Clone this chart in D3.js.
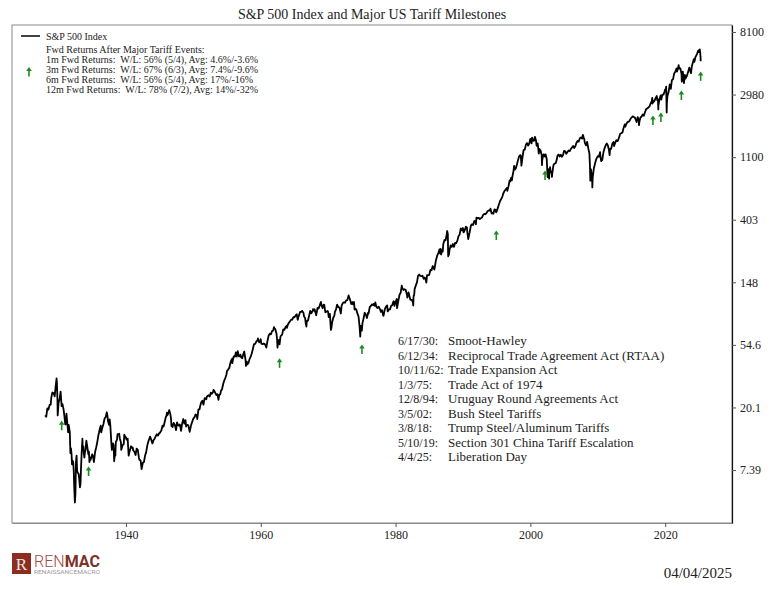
<!DOCTYPE html>
<html>
<head>
<meta charset="utf-8">
<script src="https://cdn.jsdelivr.net/npm/d3@7"></script>
<style>
body { margin: 0; background: #fff; }
text { font-family: "Liberation Serif", serif; fill: #222; }
</style>
</head>
<body>
<script>
// S&P 500 level, [decimal year, close] (log scale)
const spx = [
  [1928.00,17.7],[1928.17,17.3],[1928.33,19.8],[1928.50,19.4],[1928.67,20.9],[1928.83,21.0],[1928.92,23.5],[1928.99,24.35],
  [1929.08,25.5],[1929.25,25.3],[1929.42,24.0],[1929.58,28.5],[1929.70,31.9],[1929.75,30.0],[1929.83,22.9],[1929.87,17.7],[1929.99,21.45],
  [1930.17,23.3],[1930.30,25.9],[1930.45,20.5],[1930.50,20.5],[1930.58,21.2],[1930.75,19.4],[1930.92,16.5],[1930.99,15.3],
  [1931.08,15.4],[1931.17,18.2],[1931.33,15.0],[1931.42,13.5],[1931.50,15.2],[1931.67,13.5],[1931.75,9.7],[1931.83,10.5],[1931.92,9.6],[1931.99,8.1],
  [1932.08,8.6],[1932.17,8.4],[1932.25,7.3],[1932.33,5.5],[1932.42,4.4],[1932.50,5.0],[1932.58,8.4],[1932.67,9.3],[1932.75,7.3],[1932.83,7.1],[1932.99,6.9],
  [1933.08,6.3],[1933.17,5.6],[1933.25,5.9],[1933.33,7.6],[1933.42,9.6],[1933.54,12.2],[1933.58,10.4],[1933.67,10.8],[1933.75,9.6],[1933.83,9.0],[1933.92,9.9],[1933.99,10.1],
  [1934.08,11.3],[1934.12,11.8],[1934.25,10.8],[1934.42,9.5],[1934.50,9.9],[1934.58,8.4],[1934.67,9.0],[1934.75,8.7],[1934.92,9.3],[1934.99,9.5],
  [1935.08,9.3],[1935.25,8.4],[1935.42,9.9],[1935.58,10.6],[1935.75,11.6],[1935.92,13.0],[1935.99,13.4],
  [1936.08,14.0],[1936.25,15.0],[1936.33,13.5],[1936.50,14.6],[1936.67,15.5],[1936.83,16.9],[1936.99,17.2],
  [1937.15,18.6],[1937.25,17.6],[1937.33,16.2],[1937.50,15.2],[1937.58,16.6],[1937.67,15.3],[1937.75,13.2],[1937.83,11.4],[1937.90,10.2],[1937.99,10.5],
  [1938.08,11.3],[1938.17,11.0],[1938.25,8.5],[1938.33,9.4],[1938.42,9.3],[1938.50,11.6],[1938.67,12.0],[1938.75,13.1],[1938.83,13.1],[1938.99,13.2],
  [1939.08,12.3],[1939.25,11.5],[1939.30,10.2],[1939.50,11.0],[1939.67,11.2],[1939.75,13.0],[1939.92,12.4],[1939.99,12.5],
  [1940.08,12.0],[1940.25,12.2],[1940.40,9.3],[1940.50,9.8],[1940.58,10.1],[1940.75,10.8],[1940.92,10.5],[1940.99,10.6],
  [1941.08,10.1],[1941.25,9.9],[1941.42,9.4],[1941.58,10.4],[1941.75,10.2],[1941.92,9.0],[1941.99,8.7],
  [1942.17,8.6],[1942.32,7.5],[1942.50,8.3],[1942.67,8.4],[1942.83,9.3],[1942.99,9.8],
  [1943.17,11.0],[1943.33,11.7],[1943.50,12.3],[1943.58,12.6],[1943.75,12.0],[1943.92,11.3],[1943.99,11.5],
  [1944.08,11.9],[1944.25,12.2],[1944.42,12.7],[1944.58,13.1],[1944.75,12.8],[1944.92,13.3],[1944.99,13.3],
  [1945.08,13.5],[1945.25,13.9],[1945.42,15.0],[1945.58,14.8],[1945.75,16.0],[1945.92,17.3],[1945.99,17.4],
  [1946.08,18.5],[1946.17,17.8],[1946.33,18.7],[1946.42,19.25],[1946.58,18.0],[1946.67,17.0],[1946.75,14.9],[1946.92,14.7],[1946.99,15.3],
  [1947.08,15.7],[1947.25,15.2],[1947.42,14.0],[1947.58,15.8],[1947.75,15.1],[1947.92,15.0],[1947.99,15.3],
  [1948.08,14.7],[1948.17,13.8],[1948.33,15.5],[1948.50,16.7],[1948.67,15.5],[1948.83,16.4],[1948.92,14.8],[1948.99,15.2],
  [1949.08,15.2],[1949.25,15.1],[1949.45,13.6],[1949.67,15.2],[1949.83,16.0],[1949.99,16.8],
  [1950.17,17.2],[1950.33,18.0],[1950.50,17.7],[1950.58,16.7],[1950.75,19.5],[1950.92,19.5],[1950.99,20.4],
  [1951.17,21.8],[1951.33,22.4],[1951.50,21.0],[1951.67,23.3],[1951.75,23.3],[1951.92,22.9],[1951.99,23.8],
  [1952.08,24.1],[1952.25,24.4],[1952.42,23.9],[1952.58,25.4],[1952.75,25.0],[1952.92,25.7],[1952.99,26.6],
  [1953.08,26.4],[1953.25,25.3],[1953.42,24.5],[1953.58,24.8],[1953.72,22.7],[1953.83,24.5],[1953.99,24.8],
  [1954.08,26.1],[1954.25,26.9],[1954.42,29.2],[1954.58,30.9],[1954.75,32.3],[1954.92,34.2],[1954.99,36.0],
  [1955.17,36.8],[1955.33,37.9],[1955.50,41.0],[1955.67,43.2],[1955.75,43.7],[1955.78,40.8],[1955.83,42.3],[1955.99,45.5],
  [1956.17,45.3],[1956.30,48.4],[1956.42,45.2],[1956.58,49.4],[1956.75,45.4],[1956.92,45.6],[1956.99,46.7],
  [1957.08,44.7],[1957.25,44.1],[1957.42,47.4],[1957.55,49.1],[1957.75,42.4],[1957.80,39.0],[1957.92,41.7],[1957.99,40.0],
  [1958.17,40.8],[1958.33,43.4],[1958.50,45.2],[1958.67,47.8],[1958.83,51.3],[1958.99,55.2],
  [1959.17,55.4],[1959.33,57.6],[1959.50,58.5],[1959.58,60.5],[1959.75,56.9],[1959.92,57.9],[1959.99,59.9],
  [1960.08,55.6],[1960.25,55.3],[1960.42,55.8],[1960.58,55.5],[1960.75,53.5],[1960.82,52.3],[1960.99,58.1],
  [1961.17,63.4],[1961.33,65.3],[1961.50,64.6],[1961.67,68.1],[1961.83,68.6],[1961.96,72.6],[1961.99,71.6],
  [1962.17,69.9],[1962.33,65.2],[1962.42,59.6],[1962.48,52.3],[1962.58,58.2],[1962.67,59.1],[1962.75,56.3],[1962.79,55.0],[1962.92,62.3],[1962.99,63.1],
  [1963.17,64.3],[1963.33,70.0],[1963.50,69.4],[1963.67,72.5],[1963.83,74.0],[1963.89,71.6],[1963.99,75.0],
  [1964.17,77.8],[1964.33,79.5],[1964.50,81.7],[1964.67,81.8],[1964.83,85.0],[1964.99,84.75],
  [1965.17,87.4],[1965.33,89.1],[1965.48,81.6],[1965.58,85.3],[1965.83,92.4],[1965.99,92.4],
  [1966.12,94.0],[1966.33,91.1],[1966.42,86.1],[1966.58,83.6],[1966.67,77.1],[1966.77,73.2],[1966.83,80.2],[1966.99,80.3],
  [1967.17,86.8],[1967.33,94.0],[1967.50,90.6],[1967.67,93.6],[1967.75,96.7],[1967.92,94.0],[1967.99,96.5],
  [1968.17,89.4],[1968.22,87.7],[1968.42,98.7],[1968.58,97.7],[1968.75,102.7],[1968.92,108.4],[1968.99,103.9],
  [1969.17,98.1],[1969.33,103.7],[1969.42,103.5],[1969.58,91.8],[1969.75,93.1],[1969.92,93.8],[1969.99,92.1],
  [1970.08,85.0],[1970.25,89.6],[1970.40,69.3],[1970.50,72.7],[1970.58,78.0],[1970.75,84.2],[1970.92,87.2],[1970.99,92.2],
  [1971.17,96.8],[1971.33,104.0],[1971.50,99.7],[1971.67,99.0],[1971.88,90.2],[1971.99,102.1],
  [1972.17,106.6],[1972.33,107.7],[1972.50,107.1],[1972.67,111.1],[1972.83,111.6],[1972.99,118.05],
  [1973.03,120.2],[1973.25,112.4],[1973.42,104.9],[1973.58,108.2],[1973.67,104.3],[1973.83,108.3],[1973.92,95.96],[1973.99,97.6],
  [1974.17,96.2],[1974.33,90.3],[1974.50,86.0],[1974.58,79.3],[1974.67,72.2],[1974.76,62.3],[1974.83,73.9],[1974.92,69.97],[1974.99,68.6],
  [1975.08,77.0],[1975.25,83.4],[1975.42,91.2],[1975.58,88.75],[1975.75,83.9],[1975.92,91.2],[1975.99,90.2],
  [1976.17,100.0],[1976.33,101.6],[1976.50,104.3],[1976.67,102.9],[1976.75,105.2],[1976.92,102.1],[1976.99,107.5],
  [1977.17,99.8],[1977.33,98.4],[1977.50,100.5],[1977.67,96.8],[1977.83,92.3],[1977.92,94.8],[1977.99,95.1],
  [1978.17,87.0],[1978.21,86.9],[1978.42,97.2],[1978.58,100.7],[1978.75,102.5],[1978.83,93.2],[1978.92,94.7],[1978.99,96.1],
  [1979.17,96.3],[1979.33,101.8],[1979.50,102.9],[1979.67,109.3],[1979.75,109.3],[1979.83,101.8],[1979.99,107.9],
  [1980.17,113.7],[1980.22,98.2],[1980.42,111.2],[1980.58,121.7],[1980.75,125.5],[1980.92,140.5],[1980.99,135.8],
  [1981.17,131.3],[1981.33,132.8],[1981.50,131.2],[1981.67,122.8],[1981.75,116.2],[1981.92,126.35],[1981.99,122.6],
  [1982.17,113.1],[1982.25,112.0],[1982.42,111.9],[1982.58,107.1],[1982.62,102.4],[1982.67,119.5],[1982.75,120.4],[1982.83,133.7],[1982.99,140.6],
  [1983.17,148.1],[1983.33,164.4],[1983.50,168.1],[1983.67,164.4],[1983.83,163.6],[1983.99,164.9],
  [1984.17,157.1],[1984.33,160.05],[1984.50,153.2],[1984.56,147.8],[1984.67,166.7],[1984.83,166.1],[1984.99,167.2],
  [1985.17,181.2],[1985.33,179.8],[1985.50,191.9],[1985.67,188.6],[1985.75,182.1],[1985.92,202.2],[1985.99,211.3],
  [1986.17,226.9],[1986.33,235.5],[1986.50,250.8],[1986.58,236.1],[1986.67,252.9],[1986.75,231.3],[1986.92,249.2],[1986.99,242.2],
  [1987.08,274.1],[1987.25,291.7],[1987.42,290.1],[1987.58,318.7],[1987.65,336.8],[1987.75,321.8],[1987.80,224.8],[1987.83,251.8],[1987.92,230.3],[1987.99,247.1],
  [1988.17,267.8],[1988.33,261.3],[1988.50,273.5],[1988.67,261.5],[1988.83,279.0],[1988.99,277.7],
  [1989.17,288.9],[1989.33,309.6],[1989.50,318.0],[1989.67,351.5],[1989.83,340.4],[1989.99,353.4],
  [1990.08,329.1],[1990.25,339.9],[1990.42,361.2],[1990.58,356.2],[1990.67,322.6],[1990.78,295.5],[1990.83,304.0],[1990.99,330.2],
  [1991.17,367.1],[1991.33,375.3],[1991.50,371.2],[1991.67,395.4],[1991.83,392.5],[1991.92,375.2],[1991.99,417.1],
  [1992.17,412.7],[1992.33,415.0],[1992.50,408.1],[1992.67,414.0],[1992.83,418.7],[1992.99,435.7],
  [1993.17,443.4],[1993.33,440.2],[1993.50,450.5],[1993.67,463.6],[1993.83,467.8],[1993.99,466.5],
  [1994.08,481.6],[1994.25,445.8],[1994.33,450.9],[1994.50,444.3],[1994.67,475.5],[1994.83,472.4],[1994.92,453.7],[1994.99,459.3],
  [1995.17,487.4],[1995.33,514.7],[1995.50,544.8],[1995.67,561.9],[1995.83,581.5],[1995.99,615.9],
  [1996.17,640.4],[1996.33,654.2],[1996.50,670.6],[1996.58,640.0],[1996.75,687.3],[1996.92,757.0],[1996.99,740.7],
  [1997.17,790.8],[1997.25,757.1],[1997.33,801.3],[1997.50,885.1],[1997.58,954.3],[1997.67,899.5],[1997.83,914.6],[1997.99,970.4],
  [1998.17,1049.3],[1998.33,1111.8],[1998.50,1133.8],[1998.58,1120.7],[1998.67,957.3],[1998.83,1098.7],[1998.99,1229.2],
  [1999.17,1238.3],[1999.33,1335.2],[1999.50,1372.7],[1999.67,1320.4],[1999.83,1362.9],[1999.99,1469.3],
  [2000.17,1366.4],[2000.25,1498.6],[2000.42,1420.6],[2000.58,1430.8],[2000.67,1517.7],[2000.83,1429.4],[2000.92,1315.2],[2000.99,1320.3],
  [2001.08,1366.0],[2001.25,1160.3],[2001.33,1249.5],[2001.50,1224.4],[2001.67,1133.6],[2001.72,965.8],[2001.75,1040.9],[2001.92,1139.5],[2001.99,1148.1],
  [2002.17,1106.7],[2002.25,1147.4],[2002.42,1067.1],[2002.55,797.7],[2002.58,911.6],[2002.75,815.3],[2002.78,776.8],[2002.83,885.8],[2002.92,936.3],[2002.99,879.8],
  [2003.17,841.2],[2003.20,800.7],[2003.25,848.2],[2003.42,963.6],[2003.58,990.3],[2003.75,996.0],[2003.92,1058.2],[2003.99,1111.9],
  [2004.17,1144.9],[2004.33,1107.3],[2004.50,1140.8],[2004.67,1104.2],[2004.83,1130.2],[2004.99,1211.9],
  [2005.17,1203.6],[2005.33,1156.9],[2005.50,1191.3],[2005.67,1220.3],[2005.83,1207.0],[2005.99,1248.3],
  [2006.17,1280.7],[2006.33,1310.6],[2006.50,1270.2],[2006.67,1303.8],[2006.83,1377.9],[2006.99,1418.3],
  [2007.17,1406.8],[2007.33,1482.4],[2007.50,1503.4],[2007.67,1474.0],[2007.78,1565.2],[2007.83,1549.4],[2007.92,1481.1],[2007.99,1468.4],
  [2008.08,1378.6],[2008.25,1322.7],[2008.42,1400.4],[2008.58,1267.4],[2008.75,1166.4],[2008.83,968.75],[2008.89,752.4],[2008.92,896.2],[2008.99,903.3],
  [2009.08,825.9],[2009.17,735.1],[2009.19,676.5],[2009.25,797.9],[2009.42,919.1],[2009.58,987.5],[2009.75,1057.1],[2009.92,1095.6],[2009.99,1115.1],
  [2010.17,1104.5],[2010.33,1186.7],[2010.42,1089.4],[2010.50,1030.7],[2010.67,1049.3],[2010.83,1183.3],[2010.99,1257.6],
  [2011.17,1327.2],[2011.33,1363.6],[2011.50,1320.6],[2011.67,1218.9],[2011.75,1131.4],[2011.83,1253.3],[2011.92,1247.0],[2011.99,1257.6],
  [2012.17,1365.7],[2012.33,1397.9],[2012.42,1310.3],[2012.58,1379.3],[2012.75,1440.7],[2012.92,1416.2],[2012.99,1426.2],
  [2013.17,1514.7],[2013.33,1597.6],[2013.50,1606.3],[2013.67,1633.0],[2013.83,1756.5],[2013.99,1848.4],
  [2014.08,1782.6],[2014.25,1872.3],[2014.42,1923.6],[2014.58,1930.7],[2014.75,1972.3],[2014.83,2018.1],[2014.99,2058.9],
  [2015.17,2104.5],[2015.33,2085.5],[2015.50,2063.1],[2015.67,1972.2],[2015.75,1920.0],[2015.92,2080.4],[2015.99,2043.9],
  [2016.08,1940.2],[2016.12,1829.1],[2016.17,1932.2],[2016.33,2065.3],[2016.50,2098.9],[2016.67,2171.0],[2016.83,2126.2],[2016.99,2238.8],
  [2017.17,2363.6],[2017.33,2384.2],[2017.50,2423.4],[2017.67,2471.7],[2017.83,2575.3],[2017.99,2673.6],
  [2018.08,2823.8],[2018.12,2581.0],[2018.17,2713.8],[2018.25,2640.9],[2018.42,2705.3],[2018.58,2816.3],[2018.75,2914.0],[2018.83,2711.7],[2018.92,2760.2],[2018.98,2351.1],[2018.99,2506.9],
  [2019.17,2784.5],[2019.33,2945.8],[2019.42,2752.1],[2019.58,2980.4],[2019.75,2976.7],[2019.92,3141.0],[2019.99,3230.8],
  [2020.08,3225.5],[2020.14,3386.2],[2020.17,2954.2],[2020.22,2237.4],[2020.25,2584.6],[2020.33,2912.4],[2020.50,3100.3],[2020.67,3500.3],[2020.83,3270.0],[2020.99,3756.1],
  [2021.17,3811.2],[2021.33,4181.2],[2021.50,4297.5],[2021.67,4522.7],[2021.75,4307.5],[2021.92,4567.0],[2021.99,4766.2],
  [2022.08,4515.6],[2022.25,4530.4],[2022.42,4132.2],[2022.46,3666.8],[2022.50,3785.4],[2022.62,4305.2],[2022.67,3955.0],[2022.78,3577.0],[2022.92,4080.1],[2022.99,3839.5],
  [2023.17,3970.2],[2023.33,4169.5],[2023.50,4450.4],[2023.58,4589.0],[2023.75,4288.1],[2023.83,4193.8],[2023.92,4567.8],[2023.99,4769.8],
  [2024.17,5096.3],[2024.25,5254.4],[2024.33,5035.7],[2024.50,5460.5],[2024.58,5522.3],[2024.67,5648.4],[2024.75,5762.5],[2024.92,6032.4],[2024.99,5881.6],
  [2025.08,6040.5],[2025.13,6144.2],[2025.17,5954.5],[2025.22,5611.9],[2025.25,5396.5],[2025.26,5074.1]
];

// tariff events: arrow dates and the index level where each arrow sits under
const eventDates = [1930.46, 1934.45, 1962.78, 1975.01, 1994.94, 2002.17, 2018.18, 2019.36, 2022.40, 2025.26];
const eventLevels = [21.0, 10.1, 56.9, 71.0, 439, 1147, 2761, 2897, 4110, 5580];

const milestoneDates = ["6/17/30:", "6/12/34:", "10/11/62:", "1/3/75:", "12/8/94:", "3/5/02:", "3/8/18:", "5/10/19:", "4/4/25:"];
const milestoneNames = ["Smoot-Hawley", "Reciprocal Trade Agreement Act (RTAA)", "Trade Expansion Act", "Trade Act of 1974",
  "Uruguay Round Agreements Act", "Bush Steel Tariffs", "Trump Steel/Aluminum Tariffs",
  "Section 301 China Tariff Escalation", "Liberation Day"];

const legendRows = [
  "Fwd Returns After Major Tariff Events:",
  "1m Fwd Returns:  W/L: 56% (5/4), Avg: 4.6%/-3.6%",
  "3m Fwd Returns:  W/L: 67% (6/3), Avg: 7.4%/-9.6%",
  "6m Fwd Returns:  W/L: 56% (5/4), Avg: 17%/-16%",
  "12m Fwd Returns:  W/L: 78% (7/2), Avg: 14%/-32%"
];

const xTicks = [1940, 1960, 1980, 2000, 2020];
const yTickValues = [7.389, 20.09, 54.6, 148.4, 403.4, 1096.6, 2981, 8103];
const yTickLabels = ["7.39", "20.1", "54.6", "148", "403", "1100", "2980", "8100"];

const width = 780, height = 591;
const plotLeft = 12, plotRight = 732, plotTop = 25, plotBottom = 523;
const arrowGreen = "#1f8a1f";

const x = d3.scaleLinear().domain([1923.09, 2029.91]).range([plotLeft, plotRight]);
const y = d3.scaleLog().domain([3.17, 9060]).range([plotBottom, plotTop]);

const svg = d3.select("body").append("svg")
  .attr("width", width)
  .attr("height", height);

svg.append("rect").attr("width", width).attr("height", height).attr("fill", "#fff");

// frame
svg.append("rect")
  .attr("x", plotLeft).attr("y", plotTop)
  .attr("width", plotRight - plotLeft).attr("height", plotBottom - plotTop)
  .attr("fill", "none").attr("stroke", "#8a8a8a").attr("stroke-width", 1);

// title
svg.append("text")
  .attr("x", (plotLeft + plotRight) / 2).attr("y", 19)
  .attr("text-anchor", "middle")
  .style("font-size", "14px")
  .text("S&P 500 Index and Major US Tariff Milestones");

// axes
const xAxis = d3.axisBottom(x).tickValues(xTicks).tickFormat(d3.format("d")).tickSize(4).tickSizeOuter(0).tickPadding(3);
const gx = svg.append("g").attr("transform", `translate(0,${plotBottom})`).call(xAxis);
gx.select(".domain").attr("stroke", "#8a8a8a");
gx.selectAll(".tick line").attr("stroke", "#555");
gx.selectAll("text").style("font-family", "Liberation Serif, serif").style("font-size", "12px").attr("fill", "#222");

const yAxis = d3.axisRight(y).tickValues(yTickValues).tickFormat((d, i) => yTickLabels[i]).tickSize(4).tickSizeOuter(0).tickPadding(4);
const gy = svg.append("g").attr("transform", `translate(${plotRight},0)`).call(yAxis);
gy.select(".domain").attr("stroke", "#111").attr("stroke-width", 1.2);
gy.selectAll(".tick line").attr("stroke", "#555");
gy.selectAll("text").style("font-family", "Liberation Serif, serif").style("font-size", "12px").attr("fill", "#222");

// index line
const line = d3.line()
  .x(d => x(d[0]))
  .y(d => y(d[1]));

svg.append("path")
  .datum(spx)
  .attr("d", line)
  .attr("fill", "none")
  .attr("stroke", "#000")
  .attr("stroke-width", 1.8)
  .attr("stroke-linejoin", "round");

// green up arrows
function arrow(g) {
  g.append("line").attr("x1", 0).attr("x2", 0).attr("y1", -1).attr("y2", 5)
    .attr("stroke", arrowGreen).attr("stroke-width", 1.6);
  g.append("path").attr("d", "M-2.8,-0.5 L2.8,-0.5 L0,-4.5 Z").attr("fill", arrowGreen);
}

svg.selectAll(".evt")
  .data(eventDates)
  .enter()
  .append("g")
    .attr("class", "evt")
    .attr("transform", (d, i) => `translate(${x(d)},${y(eventLevels[i] * 0.72)})`)
    .each(function() { arrow(d3.select(this)); });

// legend
svg.append("line").attr("x1", 21).attr("x2", 40).attr("y1", 36).attr("y2", 36)
  .attr("stroke", "#000").attr("stroke-width", 1.5);
svg.append("text").attr("x", 46).attr("y", 39.5).style("font-size", "10px").text("S&P 500 Index");
svg.selectAll(".leg")
  .data(legendRows)
  .enter()
  .append("text")
    .attr("class", "leg")
    .attr("x", 46)
    .attr("y", (d, i) => 53 + i * 10.1)
    .style("font-size", "10px")
    .style("white-space", "pre")
    .text(d => d);
svg.append("g").attr("transform", "translate(29,71.5)").call(arrow);

// milestone list
const ms = svg.append("g");
milestoneDates.forEach((d, i) => {
  ms.append("text").attr("x", 398).attr("y", 345 + i * 14.5).style("font-size", "12px").text(d);
  ms.append("text").attr("x", 448).attr("y", 345 + i * 14.5).style("font-size", "13px").text(milestoneNames[i]);
});

// date stamp
svg.append("text")
  .attr("x", 732).attr("y", 578)
  .attr("text-anchor", "end")
  .style("font-size", "15px")
  .text("04/04/2025");

// RenMac logo
const logo = svg.append("g");
logo.append("rect").attr("x", 12).attr("y", 553).attr("width", 19).attr("height", 21).attr("fill", "#8c2d22");
logo.append("text").attr("x", 21.5).attr("y", 570).attr("text-anchor", "middle")
  .style("font-size", "17px").style("fill", "#f3e6e2").text("R");
const word = logo.append("text").attr("x", 34).attr("y", 567)
  .style("font-family", "Roboto, sans-serif").style("font-size", "16px");
word.append("tspan").style("fill", "#9b4a3e").style("font-weight", "300").text("REN");
word.append("tspan").style("fill", "#7e3127").style("font-weight", "700").text("MAC");
logo.append("text").attr("x", 34).attr("y", 573.5)
  .attr("textLength", 66).attr("lengthAdjust", "spacingAndGlyphs")
  .style("font-family", "Roboto, sans-serif").style("font-size", "4.5px").style("fill", "#999")
  .text("RENAISSANCEMACRO");
</script>
</body>
</html>
